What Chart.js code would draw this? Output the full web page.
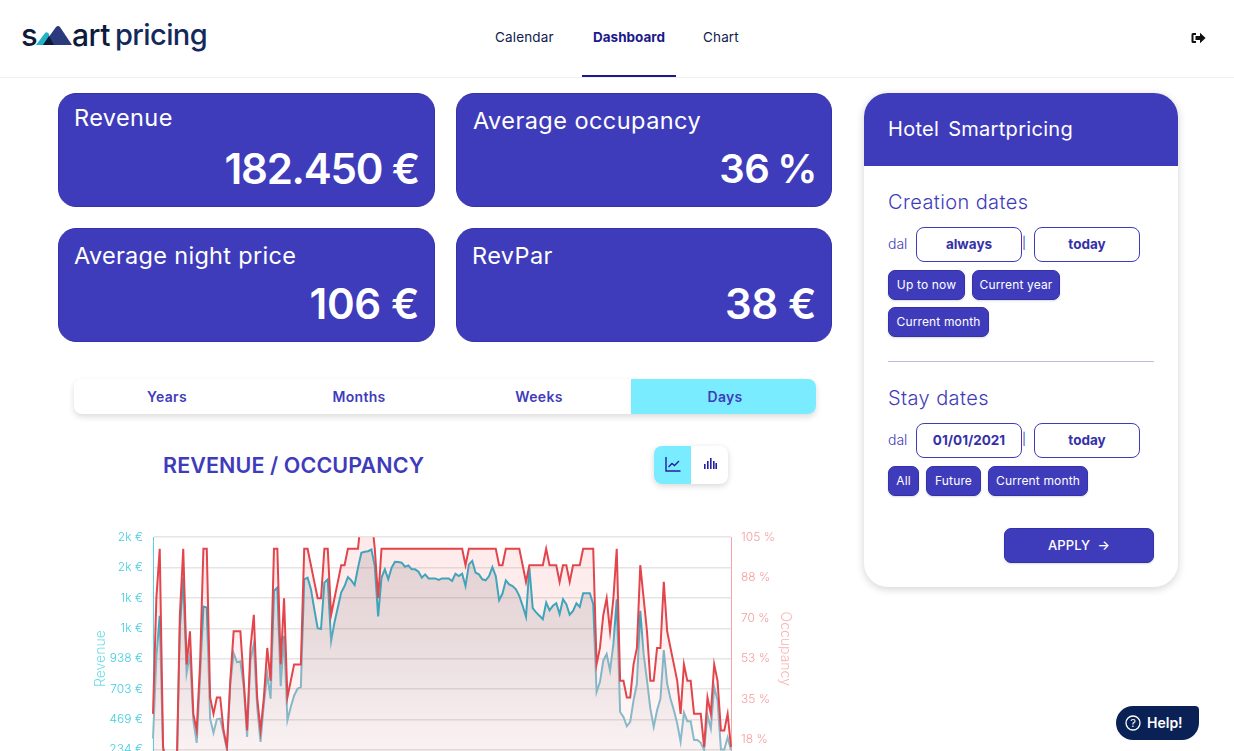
<!DOCTYPE html>
<html><head><meta charset="utf-8">
<script src="https://cdn.jsdelivr.net/npm/chart.js@4"></script>
<style>
*{box-sizing:border-box}
html,body{margin:0;padding:0;width:1234px;height:751px;overflow:hidden;background:#fff;font-family:"Inter","Noto Sans",sans-serif}
.a{position:absolute;white-space:nowrap}
.card{position:absolute;background:#3f3cbb;border:1px solid #3431ab;border-radius:18px;color:#fff}
.card .t{position:absolute;left:15px;font-size:23.5px;font-weight:400;letter-spacing:.4px;line-height:30px}
.card .v{position:absolute;right:15px;top:50px;font-size:42px;font-weight:600;line-height:50px;letter-spacing:-.4px}
.btn{position:absolute;background:#3f3cbb;border:1px solid #3431ab;color:#fff;border-radius:7px;font-size:12px;height:30px;line-height:28px;text-align:center;letter-spacing:.15px;box-shadow:0 1px 2px rgba(0,0,0,.15)}
.inp{position:absolute;border:1px solid #3f3cbb;border-radius:8px;width:106px;height:35px;line-height:33px;text-align:center;font-size:13.5px;font-weight:700;color:#3431a8;background:#fff}
.h{position:absolute;left:888px;font-size:20px;font-weight:300;color:#3f3cbb;letter-spacing:.4px;line-height:26px}
.dal{position:absolute;left:888px;font-size:14px;font-weight:300;color:#3f3cbb;line-height:18px}
.tab{position:absolute;top:388px;font-size:14px;font-weight:600;color:#3f3cbb;line-height:18px;transform:translateX(-50%);letter-spacing:.3px}
.nav{position:absolute;top:28px;font-size:13.5px;line-height:18px;color:#10214f;letter-spacing:.15px}
</style></head><body>
<!-- header -->
<div class="a" style="left:0;top:0;width:1234px;height:78px;background:#fff;border-bottom:1px solid #f0f0f0"></div>
<div class="a" style="left:21px;top:15px;font-size:31px;line-height:40px;font-weight:500;color:#0d1a3a;letter-spacing:-.3px">s</div>
<svg class="a" style="left:35px;top:25px" width="38" height="21" viewBox="0 0 38 21"><path d="M1 20 L10 8 Q12 6 14 9 L16 20Z" fill="#22b3c6"/><path d="M8 20 L21 2 Q23 0 25 2 L37 20Z" fill="#2a3a7c"/><path d="M8 20 L14 11 L19 20Z" fill="#0d1a3a"/></svg>
<div class="a" style="left:72px;top:15px;font-size:30px;line-height:40px;font-weight:500;color:#0d1a3a;letter-spacing:-.5px">art</div>
<div class="a" style="left:115px;top:15px;font-size:29px;line-height:40px;font-weight:500;color:#13295c;letter-spacing:-.6px">pricing</div>
<div class="nav" style="left:495px">Calendar</div>
<div class="nav" style="left:593px;font-weight:700;color:#1b1a8a;letter-spacing:0">Dashboard</div>
<div class="nav" style="left:703px">Chart</div>
<div class="a" style="left:582px;top:75px;width:94px;height:2px;background:#1b1a8a"></div>
<svg class="a" style="left:1191px;top:32px" width="15" height="12" viewBox="0 0 15 12"><path d="M5 1H2Q0.5 1 0.5 2.5V9.5Q0.5 11 2 11H5V9H2.5V3H5Z" fill="#111"/><path d="M9 0.8L14.6 6L9 11.2V8H4.5V4H9Z" fill="#111"/></svg>

<!-- KPI cards -->
<div class="card" style="left:58px;top:93px;width:377px;height:114px"><div class="t" style="top:9px">Revenue</div><div class="v" style="letter-spacing:-1.2px">182.450 €</div></div>
<div class="card" style="left:456px;top:93px;width:376px;height:114px"><div class="t" style="top:12px;left:16px;letter-spacing:.45px">Average occupancy</div><div class="v" style="right:14px;font-size:40px;word-spacing:-2px">36 %</div></div>
<div class="card" style="left:58px;top:228px;width:377px;height:114px"><div class="t" style="top:12px;letter-spacing:.3px">Average night price</div><div class="v">106 €</div></div>
<div class="card" style="left:456px;top:228px;width:376px;height:114px"><div class="t" style="left:15px;top:12px">RevPar</div><div class="v">38 €</div></div>

<!-- tabs -->
<div class="a" style="left:74px;top:379px;width:742px;height:35px;background:#fff;border-radius:8px;box-shadow:0 3px 6px rgba(0,0,0,.14)"></div>
<div class="a" style="left:631px;top:379px;width:185px;height:35px;background:#7aecff;border-radius:0 8px 8px 0"></div>
<div class="tab" style="left:167px">Years</div>
<div class="tab" style="left:359px">Months</div>
<div class="tab" style="left:539px">Weeks</div>
<div class="tab" style="left:725px">Days</div>

<div class="a" style="left:163px;top:450px;font-size:21.5px;line-height:30px;font-weight:600;color:#3f3cbb;letter-spacing:.1px">REVENUE / OCCUPANCY</div>
<div class="a" style="left:654px;top:446px;width:74px;height:38px;background:#fff;border-radius:8px;box-shadow:0 2px 6px rgba(0,0,0,.16)"></div>
<div class="a" style="left:654px;top:446px;width:37px;height:38px;background:#7aecff;border-radius:8px 0 0 8px"></div>
<svg class="a" style="left:665px;top:457px" width="16" height="15" viewBox="0 0 16 15" fill="none" stroke="#2320a0" stroke-width="1.4"><path d="M1 0V14H15.5"/><path d="M3.5 10L7 6.5L9.5 8.5L14 4"/></svg>
<svg class="a" style="left:704px;top:458px" width="13" height="12" viewBox="0 0 13 12" fill="#2320a0"><rect x="0" y="6" width="1.6" height="5"/><rect x="3" y="3" width="1.6" height="8"/><rect x="6" y="0" width="1.6" height="11"/><rect x="9" y="3" width="1.6" height="8"/><rect x="11.4" y="5" width="1.6" height="6"/></svg>

<!-- chart -->
<div class="a" style="left:80px;top:520px;width:720px;height:280px"><canvas id="c" width="720" height="280"></canvas></div>

<!-- side panel -->
<div class="a" style="left:864px;top:93px;width:314px;height:494px;background:#fff;border-radius:24px;box-shadow:0 2px 8px rgba(0,0,0,.18)"></div>
<div class="a" style="left:864px;top:93px;width:314px;height:73px;background:#3f3cbb;border-radius:24px 24px 0 0"></div>
<div class="a" style="left:888px;top:116px;font-size:20px;line-height:26px;color:#fff;font-weight:400;letter-spacing:.3px;word-spacing:3px">Hotel Smartpricing</div>
<div class="h" style="top:189px">Creation dates</div>
<div class="dal" style="top:235px">dal</div>
<div class="inp" style="left:916px;top:227px">always</div>
<div class="a" style="left:1022px;top:234px;font-size:12px;line-height:18px;color:#3f3cbb">|</div>
<div class="inp" style="left:1034px;top:227px">today</div>
<div class="btn" style="left:888px;top:270px;width:77px">Up to now</div>
<div class="btn" style="left:972px;top:270px;width:88px">Current year</div>
<div class="btn" style="left:888px;top:307px;width:101px">Current month</div>
<div class="a" style="left:888px;top:361px;width:266px;height:1px;background:#bdbce6"></div>
<div class="h" style="top:385px">Stay dates</div>
<div class="dal" style="top:431px">dal</div>
<div class="inp" style="left:916px;top:423px">01/01/2021</div>
<div class="a" style="left:1022px;top:430px;font-size:12px;line-height:18px;color:#3f3cbb">|</div>
<div class="inp" style="left:1034px;top:423px">today</div>
<div class="btn" style="left:888px;top:466px;width:31px">All</div>
<div class="btn" style="left:926px;top:466px;width:55px">Future</div>
<div class="btn" style="left:988px;top:466px;width:100px">Current month</div>
<div class="btn" style="left:1004px;top:528px;width:150px;height:35px;line-height:33px;font-weight:500;font-size:13px">APPLY &nbsp;→</div>

<!-- help -->
<div class="a" style="left:1116px;top:706px;width:83px;height:34px;background:#0a2156;border-radius:17px 4px 17px 17px;color:#fff;font-size:14px;font-weight:600;line-height:33px;padding-left:31px">Help!</div>
<svg class="a" style="left:1125px;top:715px" width="16" height="16" viewBox="0 0 16 16"><circle cx="8" cy="8" r="7" fill="none" stroke="#fff" stroke-width="1.3"/><text x="8" y="12" font-size="11" fill="#fff" text-anchor="middle" font-family="Inter">?</text></svg>

<script>
// Occupancy per day (%)
const occupancy = [
28.6,78.6,100,14.3,7.1,7.1,7.1,0,71.4,100,50,64.3,28.6,21.4,50,100,100,35.7,28.6,35.7,
35.7,21.4,14.3,42.9,64.3,64.3,64.3,42.9,21.4,57.1,71.4,35.7,21.4,35.7,57.1,42.9,100,100,50,78.6,
35.7,42.9,50,50,50,100,100,92.9,85.7,78.6,78.6,100,100,71.4,78.6,85.7,92.9,92.9,100,100,
100,100,114.3,114.3,114.3,114.3,100,78.6,100,100,100,100,100,100,100,100,100,100,100,100,
100,100,100,100,100,100,100,100,100,100,100,100,100,92.9,100,100,100,100,100,100,
100,100,100,92.9,92.9,100,100,100,100,100,92.9,85.7,92.9,92.9,92.9,92.9,92.9,100,92.9,92.9,
92.9,85.7,92.9,92.9,85.7,92.9,92.9,92.9,100,100,100,100,50,57.1,71.4,78.6,64.3,78.6,100,42.9,
42.9,35.7,35.7,50,57.1,92.9,78.6,64.3,42.9,42.9,57.1,57.1,85.7,64.3,57.1,50,42.9,28.6,50,42.9,
42.9,28.6,28.6,28.6,14.3,35.7,28.6,50,42.9,21.4,21.4,28.6,14.3];
// Revenue per day (€)
const revenue = [
321,948,1268,205,100,100,100,0,1178,1563,825,973,461,287,794,1340,1332,474,364,469,
474,359,231,743,979,909,917,717,333,922,1050,564,295,589,820,628,1460,1486,725,1114,
461,564,653,705,717,1550,1563,1473,1319,1173,1166,1524,1550,1071,1217,1332,1447,1498,1568,1542,
1506,1639,1755,1762,1767,1780,1652,1263,1563,1627,1550,1639,1685,1683,1678,1647,1657,1627,1627,1609,
1563,1588,1557,1557,1557,1545,1557,1557,1557,1537,1593,1575,1593,1498,1665,1691,1601,1588,1550,1542,
1575,1644,1575,1388,1440,1542,1511,1498,1473,1422,1345,1260,1639,1327,1294,1268,1242,1370,1311,1345,
1365,1281,1396,1358,1276,1306,1365,1337,1442,1442,1442,1358,679,756,922,973,845,1050,1396,525,
487,415,449,615,743,1306,973,769,551,410,538,628,1004,743,628,538,436,295,520,454,
454,308,308,287,231,500,397,717,615,236,236,328,231];
const revenueTicks = ['0 €','234 €','469 €','703 €','938 €','1k €','1k €','2k €','2k €'];
const occupancyTicks = ['0 %','18 %','35 %','53 %','70 %','88 %','105 %'];
const days = occupancy.map((_, i) => String(i + 1));

const ctx = document.getElementById('c').getContext('2d');
const cy = px => px - 520; // page y to canvas y for the gradients
function grad(stops){const g=ctx.createLinearGradient(0,cy(536),0,cy(780));stops.forEach(s=>g.addColorStop(s[0],s[1]));return g;}
const TICKFONT={family:'Inter',size:12,weight:'300'};

new Chart(ctx,{
  type:'line',
  data:{labels:days,datasets:[
    {label:'Occupancy',data:occupancy,yAxisID:'occ',borderColor:'#e2454b',borderWidth:2,pointRadius:0,tension:0,
     fill:'origin',backgroundColor:grad([[0,'rgba(245,90,90,.13)'],[1,'rgba(245,90,90,.04)']]),order:1},
    {label:'Revenue',data:revenue,yAxisID:'rev',
     borderColor:grad([[0,'#2badc6'],[.36,'#2badc6'],[.48,'#79bccd'],[1,'#85c2d2']]),borderWidth:2,pointRadius:0,tension:0,
     fill:'origin',backgroundColor:grad([[0,'rgba(40,45,60,.14)'],[.4,'rgba(40,45,60,.11)'],[1,'rgba(40,45,60,0)']]),order:2}
  ]},
  options:{
    responsive:false,animation:false,
    layout:{padding:{top:16,bottom:20,left:0,right:0}},
    plugins:{legend:{display:false},tooltip:{enabled:false}},
    scales:{
      x:{display:false,offset:false},
      rev:{position:'left',min:0,max:1875,
        afterBuildTicks:a=>{a.ticks=revenueTicks.map((_,i)=>({value:i*234.375}));},
        afterFit:a=>{a.width=73;},
        ticks:{color:'#42cde0',font:TICKFONT,padding:10,callback:(v,i)=>revenueTicks[i]},
        grid:{color:'#e6e4e4',lineWidth:1.5,drawTicks:false},
        border:{display:true,color:'#56d3e4',width:1},
        title:{display:true,text:'Revenue',color:'#74dbe9',font:{family:'Inter',size:14,weight:'300'},padding:{top:12,bottom:0}}},
      occ:{position:'right',min:0,max:105,
        afterBuildTicks:a=>{a.ticks=occupancyTicks.map((_,i)=>({value:i*17.5}));},
        afterFit:a=>{a.width=69;},
        ticks:{color:'#f59d9d',font:TICKFONT,padding:10,callback:(v,i)=>occupancyTicks[i]},
        grid:{drawOnChartArea:false,drawTicks:false},
        border:{display:true,color:'#f5a5a5',width:1},
        title:{display:true,text:'Occupancy     ',color:'#f7b5b5',font:{family:'Inter',size:14,weight:'300'},padding:{top:6,bottom:6}}}
    }
  }
});
</script>
</body></html>
